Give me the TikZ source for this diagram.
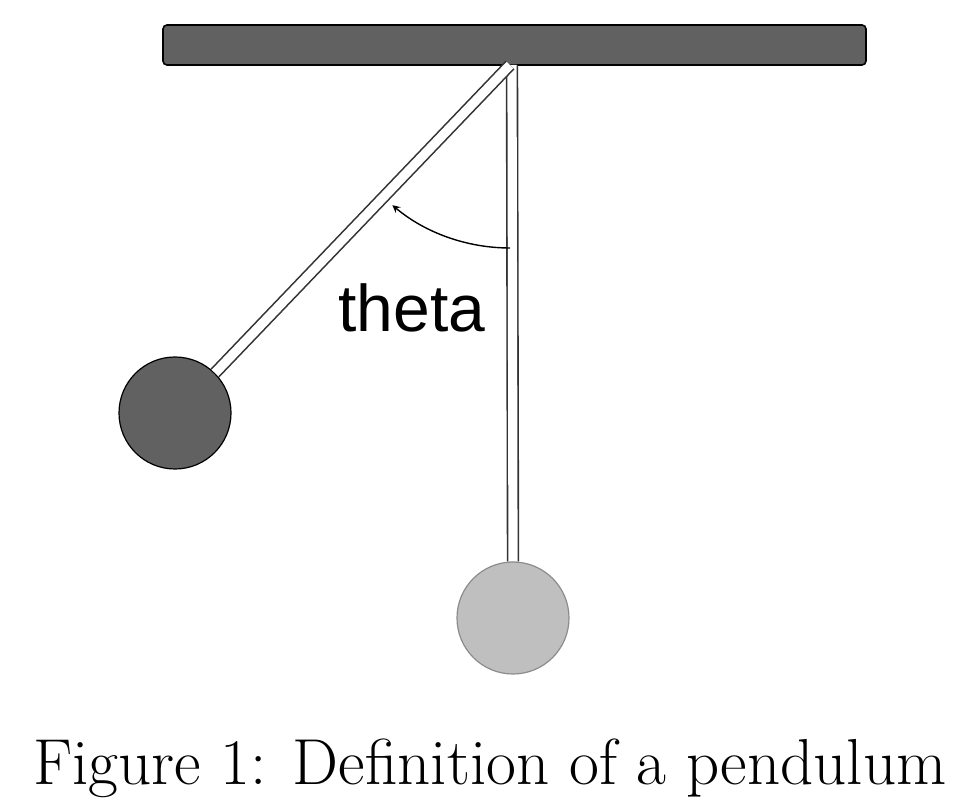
\documentclass[tikz,border=0pt]{standalone}
\usepackage{fontspec}
\newfontfamily\hel{Liberation Sans}
\begin{document}
\begin{tikzpicture}[x=0.5pt,y=-0.5pt,
  rod/.style={draw=black!80,line width=0.8pt,double=white,double distance=4.6pt},
  bob/.style={circle,minimum size=56pt,inner sep=0pt,line width=0.6pt}]
\useasboundingbox (0,0) rectangle (970,812);
\node[draw=black,fill=black!62,rounded corners=2pt,line width=0.8pt,minimum width=351.5pt,minimum height=20pt,inner sep=0pt] (bar) at (514.5,45) {};
\coordinate (piv) at (510,65);
\coordinate (piv2) at (512,65);
\node[bob,draw=black!45,fill=black!25] (bob1) at (513,618) {};
\node[bob,draw=black,fill=black!62] (bob2) at (175,413) {};
\draw[rod] (piv2) -- (bob1.north);
\draw[rod] (piv) -- (bob2.45);
\draw[-stealth,line width=0.7pt] (piv) ++(90:183) arc[start angle=90,end angle=130,radius=183];
\node[font=\hel\fontsize{33pt}{36pt}\selectfont] (th) at (412,308) {theta};
\node[font=\fontsize{32.5pt}{36pt}\selectfont] (cap) at (490,768) {Figure 1: Definition of a pendulum};
\end{tikzpicture}
\end{document}
